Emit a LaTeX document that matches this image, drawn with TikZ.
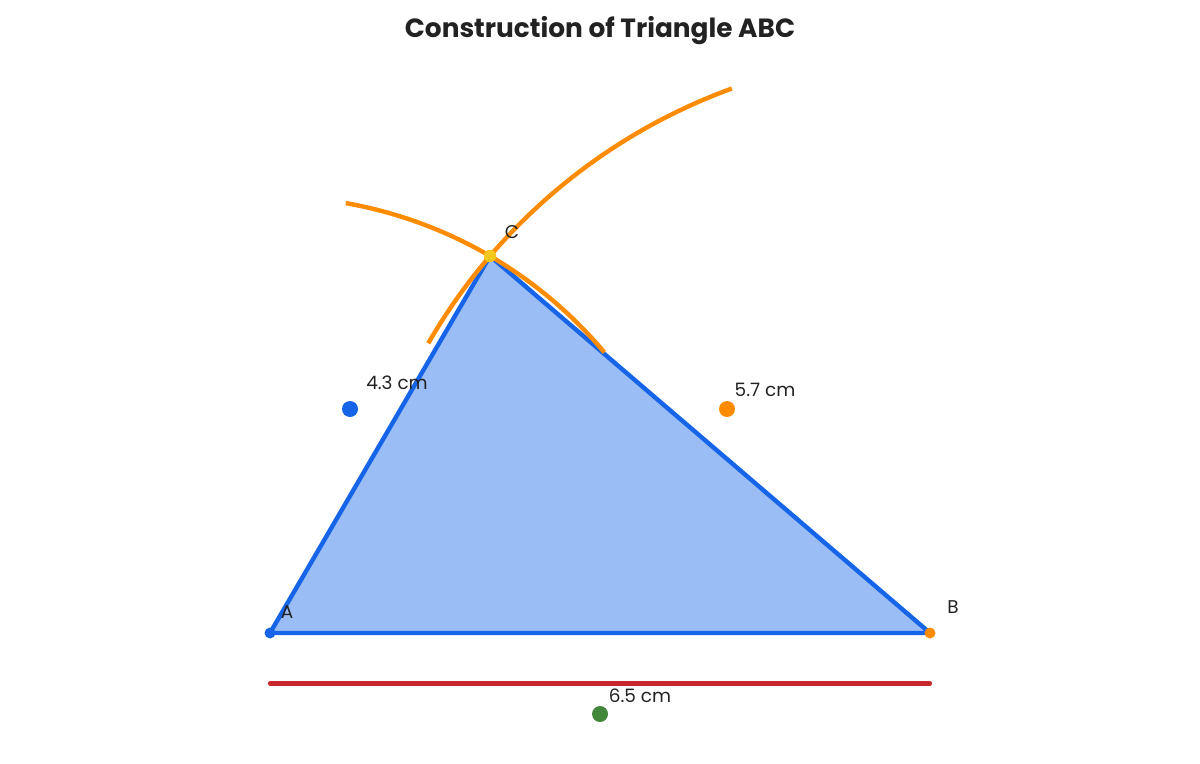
\documentclass[tikz,border=0pt]{standalone}
\usepackage{fontspec}
\setmainfont{Poppins}
\usetikzlibrary{calc}

\definecolor{edgeblue}{RGB}{22,101,232}
\definecolor{fillblue}{RGB}{155,189,245}
\definecolor{arcorange}{RGB}{255,140,0}
\definecolor{baseRed}{RGB}{200,40,45}
\definecolor{dotGreen}{RGB}{67,136,58}
\definecolor{pointYellow}{RGB}{245,200,30}
\definecolor{textgray}{RGB}{34,34,34}

\tikzset{
    dot/.style={circle, fill=#1, inner sep=0pt, minimum size=0.32cm},
    vertex/.style={circle, fill=#1, inner sep=0pt, minimum size=0.22cm},
    lbl/.style={text=textgray, font=\fontsize{10.5}{12}\selectfont, inner sep=0pt}
}

\begin{document}
\begin{tikzpicture}
        \useasboundingbox (0,0) rectangle (24,15.26);
        \def\radA{8.73}
        \def\radB{11.588}

        % Points of the triangle
        \coordinate (A) at (5.4,2.6);
        \coordinate (B) at (18.6,2.6);
        \coordinate (C) at (9.8,10.14);

        % Triangle ABC
        \draw[fill=fillblue, draw=edgeblue, line width=2.5pt, line join=round] (A) -- (B) -- (C) -- cycle;

        % Arc from B with radius BC
        \draw[arcorange, line width=2.5pt] ([shift={(150:\radB)}]B) arc (150:110:\radB);
        % Arc from A with radius AC
        \draw[arcorange, line width=2.5pt] ([shift={(80:\radA)}]A) arc (80:40:\radA);

        % Base segment 6.5 cm
        \coordinate (baseL) at (5.4,1.59);
        \coordinate (baseR) at (18.6,1.59);
        \draw[baseRed, line width=2.3pt, line cap=round] (baseL) -- (baseR);

        % Vertex dots
        \node[vertex=edgeblue] (dotA) at (A) {};
        \node[vertex=arcorange] (dotB) at (B) {};
        \node[vertex=pointYellow, minimum size=0.25cm] (dotC) at (C) {};

        % Length markers
        \node[dot=edgeblue] (markAC) at (7.0,7.08) {};
        \node[dot=arcorange] (markBC) at (14.54,7.08) {};
        \node[dot=dotGreen] (markAB) at (12.0,0.98) {};

        % Labels
        \node[lbl] (labA) at (5.74,3.02) {A};
        \node[lbl] (labB) at (19.06,3.12) {B};
        \node[lbl] (labC) at (10.24,10.62) {C};
        \node[lbl] (lenAC) at (7.94,7.6) {4.3 cm};
        \node[lbl] (lenBC) at (15.3,7.46) {5.7 cm};
        \node[lbl] (lenAB) at (12.8,1.34) {6.5 cm};

        % Title
        \node[text=textgray, font=\bfseries\fontsize{15}{18}\selectfont] (title) at (12.0,14.64) {Construction of Triangle ABC};
    \end{tikzpicture}
\end{document}
